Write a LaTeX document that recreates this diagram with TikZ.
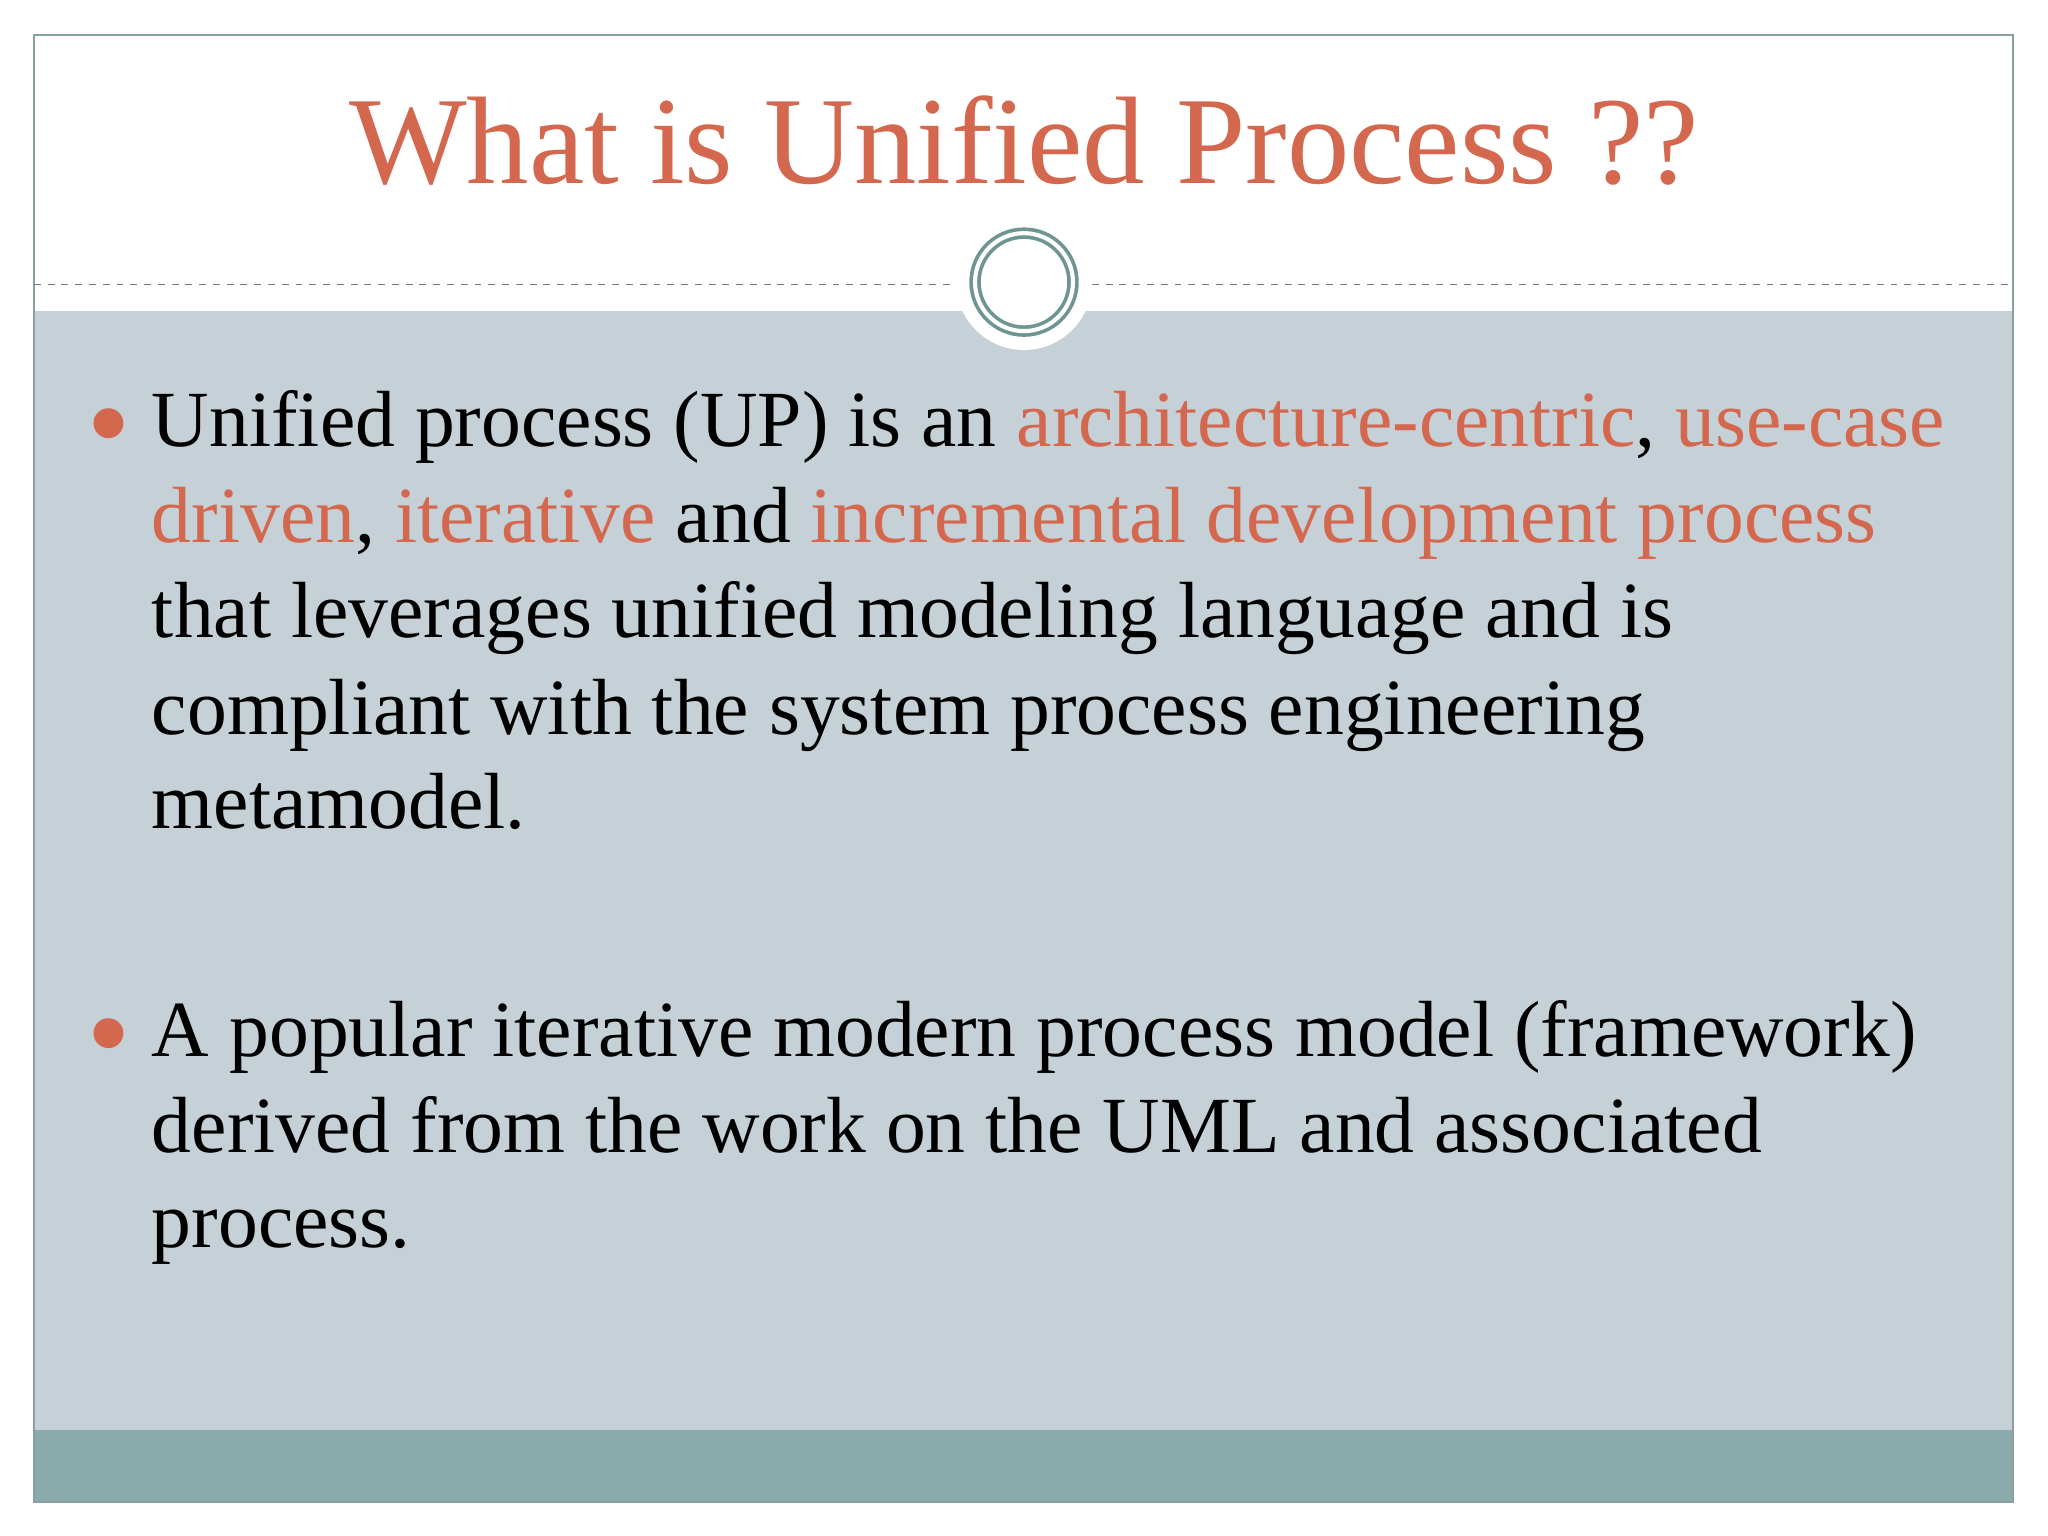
\documentclass[tikz,border=0pt]{standalone}
\usepackage{fontspec}
\setmainfont{Liberation Serif}
\definecolor{accent}{HTML}{D4684F}
\definecolor{bodybg}{HTML}{C5D1D6}
\definecolor{band}{HTML}{8BAAAB}
\definecolor{frame}{HTML}{8A9FA3}
\definecolor{ring}{HTML}{6F9593}
\begin{document}
\begin{tikzpicture}[x=0.02cm,y=-0.02cm,
  line/.style={anchor=base west,inner sep=0,font=\fontsize{34.7}{40}\selectfont},
  bul/.style={circle,fill=accent,inner sep=0,minimum size=13}]
\useasboundingbox (0,0) rectangle (1568,1176);
\fill[white] (0,0) rectangle (1568,1176);
\fill[bodybg] (26,238) rectangle (1541,1095);
\fill[band] (26,1095) rectangle (1541,1150);
\draw[frame,line width=1pt] (26,27) rectangle (1541,1150);
\draw[frame!80!black,dashed,line width=0.6pt] (26,218) -- (730,218);
\draw[frame!80!black,dashed,line width=0.6pt] (836,218) -- (1541,218);
\fill[white] (784,216) circle (52);
\node[circle,draw=ring,line width=1.6pt,double=white,double distance=1.8pt,minimum size=1.5cm,inner sep=0] (ring) at (784,216) {};
\node[anchor=center,text=accent,font=\fontsize{54.3}{60}\selectfont] (title) at (784,108) {What is Unified Process ??};
\node[bul] (b1) at (83,324) {};
\node[bul] (b2) at (83,791) {};
\node[line] (l1) at (116,342) {Unified process (UP) is an \textcolor{accent}{architecture-centric}, \textcolor{accent}{use-case}};
\node[line] (l2) at (116,415) {\textcolor{accent}{driven}, \textcolor{accent}{iterative} and \textcolor{accent}{incremental development process}};
\node[line] (l3) at (116,488) {that leverages unified modeling language and is};
\node[line] (l4) at (116,562) {compliant with the system process engineering};
\node[line] (l5) at (116,634) {metamodel.};
\node[line] (m1) at (116,809) {A popular iterative modern process model (framework)};
\node[line] (m2) at (116,882) {derived from the work on the UML and associated};
\node[line] (m3) at (116,955) {process.};
\end{tikzpicture}
\end{document}
